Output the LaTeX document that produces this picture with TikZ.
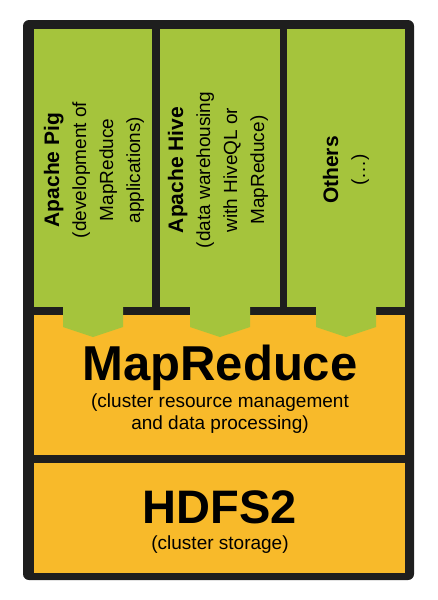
\documentclass[tikz,border=0pt]{standalone}
\usepackage{fontspec}
\setmainfont{Liberation Sans}
\definecolor{hgreen}{HTML}{A5C43C}
\definecolor{horange}{HTML}{F8BA2A}
\definecolor{hframe}{HTML}{1E1E1E}
\tikzset{
	coltext/.style={rotate=90, align=center, inner sep=0pt, font=\fontsize{19}{27}\selectfont},
	bigtitle/.style={anchor=base, inner sep=0pt, font=\fontsize{49}{49}\selectfont\bfseries},
	subtext/.style={align=center, inner sep=0pt, font=\fontsize{19}{22}\selectfont}
}
\begin{document}
\begin{tikzpicture}[x=1pt, y=-1pt]
	\useasboundingbox (0,0) rectangle (437,600);
	\fill[hframe, rounded corners=6pt] (23,20) rectangle (414,580);
	\fill[hgreen] (34,29) rectangle (152,307);
	\fill[hgreen] (160,29) rectangle (280,307);
	\fill[hgreen] (287,29) rectangle (405,307);
	\fill[horange] (34,315) rectangle (405,455);
	\fill[horange] (34,463) rectangle (405,573);
	\foreach \x in {93,220,346}
		\fill[hgreen] (\x-30,300) -- (\x+30,300) -- (\x+30,327) -- (\x,337) -- (\x-30,327) -- cycle;
	\node[coltext] (pig) at (94,170) {{\bfseries\fontsize{21}{27}\selectfont Apache Pig}\\(development of\\MapReduce\\applications)};
	\node[coltext] (hive) at (218,170) {{\bfseries\fontsize{21}{27}\selectfont Apache Hive}\\(data warehousing\\with HiveQL or\\MapReduce)};
	\node[coltext] (others) at (346,170) {{\bfseries\fontsize{21}{27}\selectfont Others}\\(\dots)};
	\node[bigtitle] (mr) at (220,380) {MapReduce};
	\node[subtext] (mrsub) at (220,414) {(cluster resource management\\and data processing)};
	\node[bigtitle, font=\fontsize{47}{47}\selectfont\bfseries] (hdfs) at (220,523) {HDFS2};
	\node[subtext, anchor=base] (hdfssub) at (220,549) {(cluster storage)};
\end{tikzpicture}
\end{document}
